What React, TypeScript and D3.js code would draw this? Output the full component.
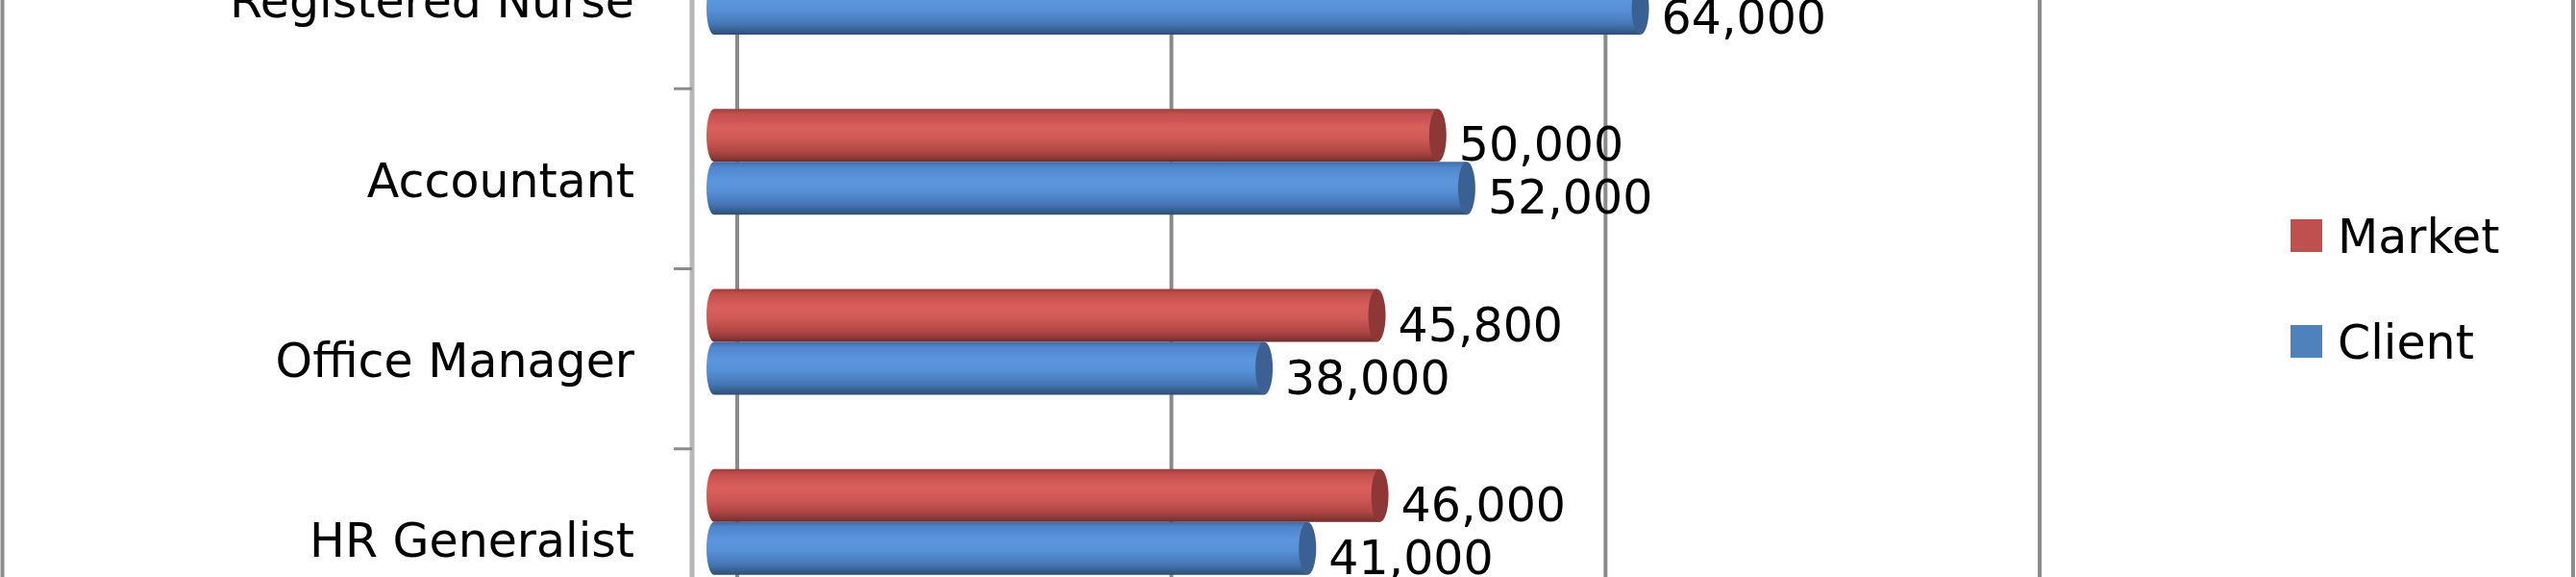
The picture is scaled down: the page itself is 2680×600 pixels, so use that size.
import * as React from "react";
import * as d3 from "d3";

const categories = ["Registered Nurse", "Accountant", "Office Manager", "HR Generalist"];
const seriesNames = ["Market", "Client"];
// Market value for Registered Nurse sits above the visible crop, so it is unknown
const marketValues: (number | null)[] = [null, 50000, 45800, 46000];
const clientValues: (number | null)[] = [64000, 52000, 38000, 41000];
const gridTicks = [0, 30000, 60000, 90000];

const W = 2680;
const H = 600;
const FONT = "'DejaVu Sans', sans-serif";
const COLORS: Record<string, { light: string[]; cap: string; legend: string }> = {
  Market: {
    light: ["#9b3e3c", "#c4504d", "#d95f5c", "#d05a57", "#b04744", "#8f3937", "#6e2b2a"],
    cap: "#8d3836",
    legend: "#c0504d",
  },
  Client: {
    light: ["#3f6ca3", "#4f86cc", "#5c96dd", "#5690d6", "#4676b5", "#36608f", "#2b4e77"],
    cap: "#3a6191",
    legend: "#4f81bd",
  },
};
const STOPS = [0, 0.1, 0.35, 0.55, 0.8, 0.92, 1];

export default function App() {
  const yBand = d3.scaleBand<string>().domain(categories).range([-95, 654]).paddingInner(0);
  const ySeries = d3.scaleBand<string>().domain(seriesNames).range([21, 131]);
  // back wall (gridlines) and front plane (bars) of the 3D chart
  const xBack = d3.scaleLinear().domain([0, 90000]).range([767, 2122]);
  const xFront = d3.scaleLinear().domain([0, 90000]).range([743, 2098]);
  const fmt = d3.format(",");
  const rx = 8;
  const values: Record<string, (number | null)[]> = { Market: marketValues, Client: clientValues };

  return (
    <svg
      width={W}
      height={H}
      style={{ position: "absolute", left: 0, top: 0, display: "block", background: "#fff" }}
    >
      <defs>
        {seriesNames.map((s) => (
          <linearGradient key={s} id={`grad-${s}`} x1="0" y1="0" x2="0" y2="1">
            {STOPS.map((o, i) => (
              <stop key={o} offset={o} stopColor={COLORS[s].light[i]} />
            ))}
          </linearGradient>
        ))}
      </defs>

      {/* Chart border */}
      <rect x={2.5} y={-10} width={2674.5} height={H + 20} fill="none" stroke="#8c8c8c" strokeWidth={4} />

      {/* Gridlines on the back wall */}
      {gridTicks.map((t) => (
        <line key={t} x1={xBack(t)} x2={xBack(t)} y1={0} y2={H} stroke="#8a8a8a" strokeWidth={4} />
      ))}

      {/* Category axis */}
      <line x1={720} x2={720} y1={0} y2={H} stroke="#b8b8b8" strokeWidth={5} />
      {categories.slice(1).map((c) => (
        <line key={c} x1={701} x2={720} y1={yBand(c)!} y2={yBand(c)!} stroke="#8c8c8c" strokeWidth={3} />
      ))}

      {/* Category labels */}
      {categories.map((c) => (
        <text
          key={c}
          x={660}
          y={yBand(c)! + yBand.bandwidth() / 2 + 19}
          textAnchor="end"
          fontFamily={FONT}
          fontSize={49}
          fill="#000"
        >
          {c}
        </text>
      ))}

      {/* Cylinders */}
      {categories.map((c, ci) =>
        seriesNames.map((s) => {
          const v = values[s][ci];
          if (v == null) return null;
          const y0 = yBand(c)! + ySeries(s)!;
          const h = ySeries.bandwidth();
          const ry = h / 2;
          const L = xFront(0);
          const R = xFront(v);
          return (
            <g key={`${c}-${s}`}>
              <path
                d={`M${L},${y0} L${R},${y0} L${R},${y0 + h} L${L},${y0 + h} A${rx},${ry} 0 0 1 ${L},${y0} Z`}
                fill={`url(#grad-${s})`}
              />
              <ellipse cx={R} cy={y0 + ry} rx={rx + 1} ry={ry} fill={COLORS[s].cap} />
              <text
                x={R + rx + 14}
                y={y0 + h - 1}
                fontFamily={FONT}
                fontSize={49}
                fill="#000"
              >
                {fmt(v)}
              </text>
            </g>
          );
        }),
      )}

      {/* Legend */}
      {seriesNames.map((s, i) => (
        <g key={s} transform={`translate(2383,${263 + i * 110})`}>
          <rect x={0} y={-35} width={33} height={34} fill={COLORS[s].legend} />
          <text x={49} y={0} fontFamily={FONT} fontSize={49} fill="#000">
            {s}
          </text>
        </g>
      ))}
    </svg>
  );
}
